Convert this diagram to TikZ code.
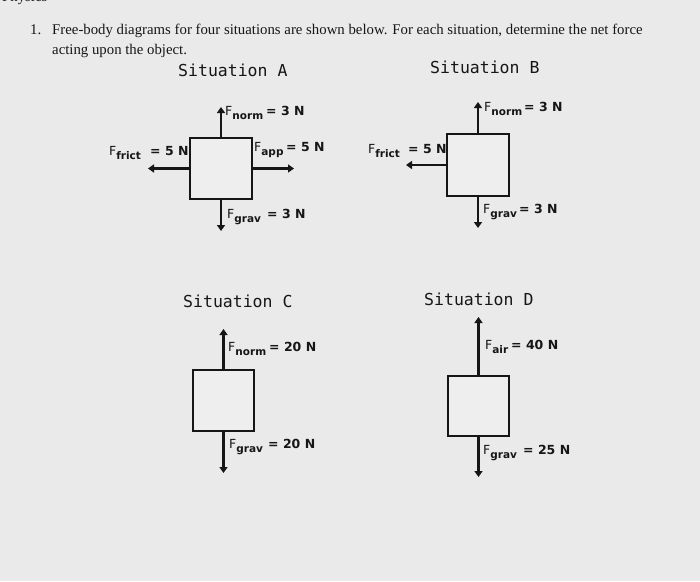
\documentclass[tikz,border=0pt]{standalone}
\usepackage{fontspec}
\setmainfont{Liberation Serif}
\newfontfamily\lblfont{DejaVu Sans}
\newfontfamily\ttlfont{DejaVu Sans Mono}
\usetikzlibrary{arrows.meta}
\definecolor{bg}{RGB}{234,234,234}
\definecolor{boxbg}{RGB}{238,238,238}
\definecolor{ink}{RGB}{22,22,22}
\newcommand\flab[3]{\makebox[#1pt][l]{F\raisebox{-4pt}{\bfseries\fontsize{10.5}{12}\selectfont #2}}{\bfseries #3}}
\tikzset{
  body/.style={draw=ink, line width=2.8pt, fill=boxbg, inner sep=0pt},
  force/.style={draw=ink, line width=2.3pt, -{Triangle[length=6pt,width=8pt]}},
  sittitle/.style={font=\ttlfont\fontsize{16.5}{18}\selectfont, text=ink, inner sep=0pt, anchor=base west},
  lbl/.style={font=\lblfont\fontsize{12.5}{14}\selectfont, text=ink, inner sep=0pt, anchor=base west},
  qtext/.style={font=\fontsize{14.8}{16}\selectfont, text=ink, inner sep=0pt, anchor=base west},
}
\begin{document}
\begin{tikzpicture}[x=1pt,y=-1pt]
\fill[bg] (0,0) rectangle (700,581);
\useasboundingbox (0,0) rectangle (700,581);
% header
\node[qtext] (phys) at (2,1) {Physics};
\node[qtext] (qnum) at (30,34) {1.};
\node[qtext] (q1) at (52,34) {Free-body diagrams for four situations are shown below. For each situation, determine the net force};
\node[qtext] (q2) at (52,54) {acting upon the object.};
% titles
\node[sittitle] (tA) at (178,76) {Situation A};
\node[sittitle] (tB) at (430,73) {Situation B};
\node[sittitle] (tC) at (183,307) {Situation C};
\node[sittitle] (tD) at (424,305) {Situation D};
% ---- Situation A
\node[body, minimum width=62pt, minimum height=61pt] (bA) at (221,168.5) {};
\coordinate (aU) at (221,107);
\coordinate (aD) at (221,231);
\coordinate (aL) at (148,168.5);
\coordinate (aR) at (294,168.5);
\draw[force] (bA.north) -- (aU);
\draw[force] (bA.south) -- (aD);
\draw[force] (bA.west) -- (aL);
\draw[force] (bA.east) -- (aR);
\node[lbl] (lAn) at (225,115) {\flab{41}{norm}{= 3 N}};
\node[lbl] (lAa) at (254,151) {\flab{32}{app}{= 5 N}};
\node[lbl] (lAf) at (109,155) {\flab{41}{frict}{= 5 N}};
\node[lbl] (lAg) at (227,218) {\flab{40}{grav}{= 3 N}};
% ---- Situation B
\node[body, minimum width=62pt, minimum height=62pt] (bB) at (478,165) {};
\coordinate (bU) at (478,102);
\coordinate (bD) at (478,228);
\coordinate (bL) at (406,165);
\draw[force] (bB.north) -- (bU);
\draw[force] (bB.south) -- (bD);
\draw[force] (bB.west) -- (bL);
\node[lbl] (lBn) at (484,111) {\flab{40}{norm}{= 3 N}};
\node[lbl] (lBf) at (368,153) {\flab{40}{frict}{= 5 N}};
\node[lbl] (lBg) at (483,213) {\flab{36}{grav}{= 3 N}};
% ---- Situation C
\node[body, minimum width=61pt, minimum height=61pt] (bC) at (223.5,400.5) {};
\coordinate (cU) at (223.5,329);
\coordinate (cD) at (223.5,473);
\draw[force] (bC.north) -- (cU);
\draw[force] (bC.south) -- (cD);
\node[lbl] (lCn) at (228,351) {\flab{41}{norm}{= 20 N}};
\node[lbl] (lCg) at (229,448) {\flab{39}{grav}{= 20 N}};
% ---- Situation D
\node[body, minimum width=61pt, minimum height=60pt] (bD) at (478.5,406) {};
\coordinate (dU) at (478.5,317);
\coordinate (dD) at (478.5,477);
\draw[force] (bD.north) -- (dU);
\draw[force] (bD.south) -- (dD);
\node[lbl] (lDa) at (485,349) {\flab{26}{air}{= 40 N}};
\node[lbl] (lDg) at (483,454) {\flab{40}{grav}{= 25 N}};
\end{tikzpicture}
\end{document}
